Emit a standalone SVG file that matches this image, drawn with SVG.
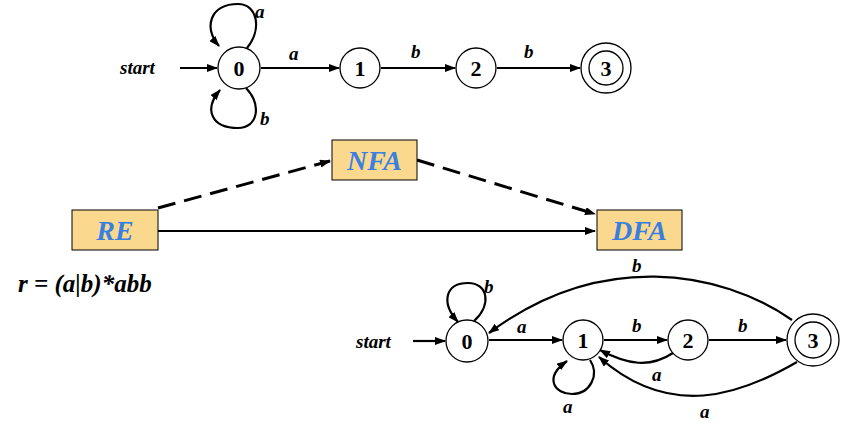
<svg xmlns="http://www.w3.org/2000/svg" width="863" height="431" viewBox="0 0 863 431">
<style>
.n{fill:#fff;stroke:#000;stroke-width:1.3}
.t{font-family:"Liberation Serif",serif;font-weight:bold;font-style:italic;font-size:19px;fill:#000}
.nt{font-family:"Liberation Serif",serif;font-weight:bold;font-size:22px;text-anchor:middle;fill:#000}
.e{fill:none;stroke:#000;stroke-width:2.2;marker-end:url(#ah)}
.d{fill:none;stroke:#000;stroke-width:3;stroke-dasharray:18 9;marker-end:url(#ah)}
.box{fill:#FAD98E;stroke:#000;stroke-width:1}
.bt{font-family:"Liberation Serif",serif;font-weight:bold;font-style:italic;font-size:28px;fill:#3A7FE0;text-anchor:middle}
</style>
<defs><marker id="ah" markerWidth="11" markerHeight="8" refX="10" refY="4" orient="auto" markerUnits="userSpaceOnUse"><path d="M0,0L11,4L0,8z" fill="#000"/></marker></defs>
<g id="connectors">
<path class="e" d="M180,68L217,68"/>
<path class="e" d="M247,48C262,30 258,4 238,4C210,4 203,28 219,46"/>
<path class="e" d="M246,88C262,105 258,128 238,128C212,128 203,110 220,90"/>
<path class="e" d="M261,68L339,68"/>
<path class="e" d="M381,68L455,68"/>
<path class="e" d="M497,68L580,68"/>
<path class="d" d="M158,208L330,161"/>
<path class="d" d="M417,160L595,214"/>
<path class="e" d="M158,231L595,231"/>
<path class="e" d="M413,341L445,341"/>
<path class="e" d="M489,340L562,340"/>
<path class="e" d="M604,340L667,340"/>
<path class="e" d="M709,340L786,340"/>
<path class="e" d="M474,321C492,305 488,283 468,283C446,283 440,302 458,322"/>
<path class="e" d="M590,360C600,375 590,394 572,394C555,394 543,378 567,361"/>
<path class="e" d="M673,353C650,368 628,365 600,350"/>
<path class="e" d="M797,362C740,395 670,420 599,357"/>
<path class="e" d="M792,320C720,270 600,250 489,333"/>
</g>
<g id="nfa0"><circle class="n" cx="239" cy="68" r="21"/><text class="nt" x="239" y="76">0</text></g>
<g id="nfa1"><circle class="n" cx="360" cy="68" r="20"/><text class="nt" x="360" y="76">1</text></g>
<g id="nfa2"><circle class="n" cx="476" cy="68" r="20"/><text class="nt" x="476" y="76">2</text></g>
<g id="nfa3"><circle class="n" cx="606" cy="68" r="25"/><circle class="n" cx="606" cy="68" r="17"/><text class="nt" x="606" y="76">3</text></g>
<g id="nfalabels">
<text class="t" x="120" y="74">start</text>
<text class="t" x="255" y="18">a</text><text class="t" x="260" y="125">b</text>
<text class="t" x="289" y="60">a</text><text class="t" x="411" y="58">b</text><text class="t" x="524" y="58">b</text>
</g>
<g id="NFA"><rect class="box" x="332" y="140" width="85" height="40"/><text class="bt" x="374.5" y="170">NFA</text></g>
<g id="RE"><rect class="box" x="72" y="210" width="86" height="40"/><text class="bt" x="115" y="240">RE</text></g>
<g id="DFA"><rect class="box" x="597" y="210" width="85" height="40"/><text class="bt" x="639.5" y="240">DFA</text></g>
<text class="t" x="18" y="292" style="font-size:25px">r = (a|b)*abb</text>
<g id="dfa0"><circle class="n" cx="467" cy="341" r="21"/><text class="nt" x="467" y="349">0</text></g>
<g id="dfa1"><circle class="n" cx="583" cy="340" r="20"/><text class="nt" x="583" y="348">1</text></g>
<g id="dfa2"><circle class="n" cx="688" cy="340" r="20"/><text class="nt" x="688" y="348">2</text></g>
<g id="dfa3"><circle class="n" cx="813" cy="340" r="26"/><circle class="n" cx="813" cy="340" r="18"/><text class="nt" x="813" y="348">3</text></g>
<g id="dfalabels">
<text class="t" x="356" y="348">start</text>
<text class="t" x="484" y="293">b</text>
<text class="t" x="517" y="333">a</text>
<text class="t" x="632" y="332">b</text><text class="t" x="738" y="332">b</text>
<text class="t" x="652" y="381">a</text><text class="t" x="563" y="413">a</text>
<text class="t" x="700" y="418">a</text><text class="t" x="632" y="272">b</text>
</g>
</svg>
